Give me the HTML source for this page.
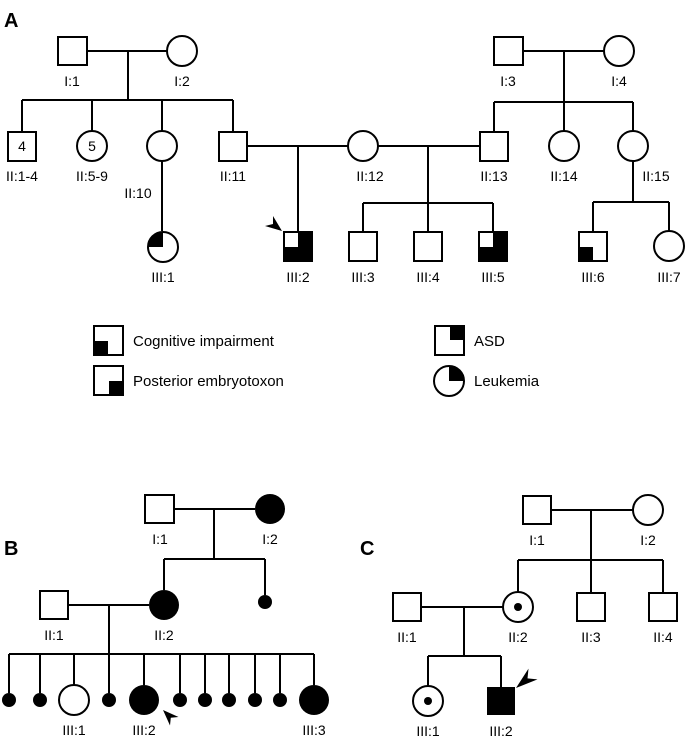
<!DOCTYPE html>
<html><head><meta charset="utf-8"><style>body{margin:0;background:#fff}svg{display:block}text{font-family:"Liberation Sans",Arial,sans-serif;fill:#000}</style></head>
<body>
<svg width="685" height="740" viewBox="0 0 685 740" xmlns="http://www.w3.org/2000/svg">
<g stroke="#000" stroke-width="2" fill="none">
<path d="M87 51H167M128 51V100M22 100H233M22 100V132M92 100V131M162 100V131M233 100V132"/>
<path d="M247 146H348M298 146V232M162 161V231"/>
<path d="M378 146H480M428 146V203M363 203H493M363 203V232M428 203V232M493 203V232"/>
<path d="M523 51H604M564 51V102M494 102H633M494 102V132M564 102V131M633 102V131M633 161V202M593 202H669M593 202V232M669 202V231"/>
<rect x="58" y="37" width="29" height="28" fill="#fff"/>
<circle cx="182" cy="51" r="15" fill="#fff"/>
<rect x="494" y="37" width="29" height="28" fill="#fff"/>
<circle cx="619" cy="51" r="15" fill="#fff"/>
<rect x="8" y="132" width="28" height="29" fill="#fff"/>
<circle cx="92" cy="146" r="15" fill="#fff"/>
<circle cx="162" cy="146" r="15" fill="#fff"/>
<rect x="219" y="132" width="28" height="29" fill="#fff"/>
<circle cx="363" cy="146" r="15" fill="#fff"/>
<rect x="480" y="132" width="28" height="29" fill="#fff"/>
<circle cx="564" cy="146" r="15" fill="#fff"/>
<circle cx="633" cy="146" r="15" fill="#fff"/>
<circle cx="163" cy="247" r="15" fill="#fff"/>
<rect x="284" y="232" width="28" height="29" fill="#fff"/>
<rect x="349" y="232" width="28" height="29" fill="#fff"/>
<rect x="414" y="232" width="28" height="29" fill="#fff"/>
<rect x="479" y="232" width="28" height="29" fill="#fff"/>
<rect x="579" y="232" width="28" height="29" fill="#fff"/>
<circle cx="669" cy="246" r="15" fill="#fff"/>
<rect x="94" y="326" width="29" height="29" fill="#fff"/>
<rect x="94" y="366" width="29" height="29" fill="#fff"/>
<rect x="435" y="326" width="29" height="29" fill="#fff"/>
<circle cx="449" cy="381" r="15" fill="#fff"/>
<path d="M174 509H255M214 509V559M164 559H265M164 559V590M265 559V595"/>
<path d="M68 605H149M109 605V654M9 654H314M9 654V693M40 654V693M74 654V685M109 654V693M144 654V685M180 654V693M205 654V693M229 654V693M255 654V693M280 654V693M314 654V685"/>
<rect x="145" y="495" width="29" height="28" fill="#fff"/>
<rect x="40" y="591" width="28" height="28" fill="#fff"/>
<circle cx="74" cy="700" r="15" fill="#fff"/>
<path d="M551 510H633M591 510V560M518 560H663M518 560V592M591 560V593M663 560V593"/>
<path d="M421 607H503M464 607V656M428 656H501M428 656V686M501 656V687"/>
<rect x="523" y="496" width="28" height="28" fill="#fff"/>
<circle cx="648" cy="510" r="15" fill="#fff"/>
<rect x="393" y="593" width="28" height="28" fill="#fff"/>
<circle cx="518" cy="607" r="15" fill="#fff"/>
<rect x="577" y="593" width="28" height="28" fill="#fff"/>
<rect x="649" y="593" width="28" height="28" fill="#fff"/>
<circle cx="428" cy="701" r="15" fill="#fff"/>
</g>
<g fill="#000">
<path d="M163 247V232A15 15 0 0 0 148 247Z"/>
<path d="M298 232H312V261H284V247H298Z"/>
<path d="M493 232H507V261H479V247H493Z"/>
<rect x="579" y="247" width="14" height="14"/>
<rect x="94" y="341" width="14" height="14"/>
<rect x="109" y="381" width="14" height="14"/>
<rect x="450" y="326" width="14" height="14"/>
<path d="M449 381V366A15 15 0 0 1 464 381Z"/>
<path d="M282 231L265 226L273 224L273 216Z"/>
<circle cx="270" cy="509" r="15"/>
<circle cx="164" cy="605" r="15"/>
<circle cx="265" cy="602" r="7"/>
<circle cx="9" cy="700" r="7"/><circle cx="40" cy="700" r="7"/><circle cx="109" cy="700" r="7"/>
<circle cx="144" cy="700" r="15"/>
<circle cx="180" cy="700" r="7"/><circle cx="205" cy="700" r="7"/><circle cx="229" cy="700" r="7"/><circle cx="255" cy="700" r="7"/><circle cx="280" cy="700" r="7"/>
<circle cx="314" cy="700" r="15"/>
<path d="M163 710L178.5 717L170.8 717.8L170 725.5Z"/>
<circle cx="518" cy="607" r="4"/>
<circle cx="428" cy="701" r="4"/>
<rect x="487" y="687" width="28" height="28"/>
<path d="M516 688L537.5 679.4L527.5 678.4L528.5 668.6Z"/>
</g>
<g font-size="14" text-anchor="middle">
<text x="72" y="86">I:1</text><text x="182" y="86">I:2</text>
<text x="508" y="86">I:3</text><text x="619" y="86">I:4</text>
<text x="22" y="151">4</text><text x="92" y="151">5</text>
<text x="22" y="181">II:1-4</text><text x="92" y="181">II:5-9</text>
<text x="138" y="198">II:10</text><text x="233" y="181">II:11</text>
<text x="370" y="181">II:12</text><text x="494" y="181">II:13</text>
<text x="564" y="181">II:14</text><text x="656" y="181">II:15</text>
<text x="163" y="282">III:1</text><text x="298" y="282">III:2</text>
<text x="363" y="282">III:3</text><text x="428" y="282">III:4</text>
<text x="493" y="282">III:5</text><text x="593" y="282">III:6</text>
<text x="669" y="282">III:7</text>
<text x="160" y="544">I:1</text><text x="270" y="544">I:2</text>
<text x="54" y="640">II:1</text><text x="164" y="640">II:2</text>
<text x="74" y="735">III:1</text><text x="144" y="735">III:2</text><text x="314" y="735">III:3</text>
<text x="537" y="545">I:1</text><text x="648" y="545">I:2</text>
<text x="407" y="642">II:1</text><text x="518" y="642">II:2</text><text x="591" y="642">II:3</text><text x="663" y="642">II:4</text>
<text x="428" y="736">III:1</text><text x="501" y="736">III:2</text>
</g>
<g font-size="15">
<text x="133" y="346">Cognitive impairment</text>
<text x="133" y="386">Posterior embryotoxon</text>
<text x="474" y="346">ASD</text>
<text x="474" y="386">Leukemia</text>
</g>
<g font-size="20" font-weight="bold">
<text x="4" y="27">A</text>
<text x="4" y="555">B</text>
<text x="360" y="555">C</text>
</g>
</svg>
</body></html>
